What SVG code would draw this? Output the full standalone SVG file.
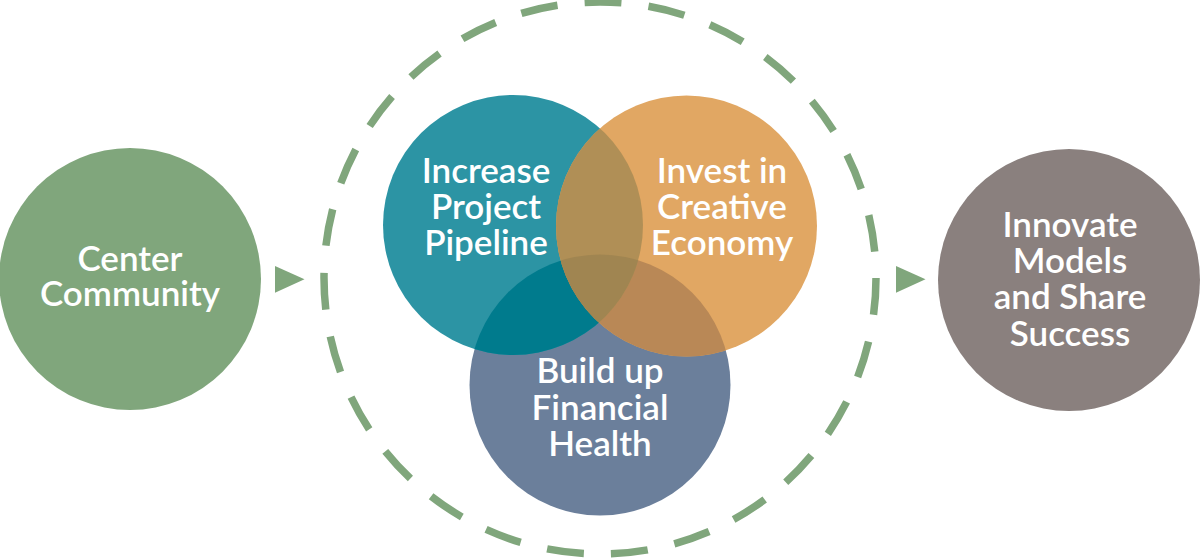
<svg xmlns="http://www.w3.org/2000/svg" width="1200" height="559" viewBox="0 0 1200 559">
<style>
.lbl{font-family:Lato,"Open Sans","Liberation Sans",sans-serif;font-weight:600;font-size:35px;fill:#ffffff;text-anchor:middle}
.arrow{fill:#80a67c}
</style>
<defs>
<clipPath id="cTeal"><circle cx="513" cy="225" r="130"/></clipPath>
<clipPath id="cOrange"><circle cx="686.5" cy="226" r="130.5"/></clipPath>
<clipPath id="cBlue"><circle cx="600" cy="385" r="130.5"/></clipPath>
</defs>
<rect width="1200" height="559" fill="#ffffff"/>
<g id="frame">
<circle cx="600" cy="278" r="276" fill="none" stroke="#80a67c" stroke-width="7.5" stroke-dasharray="37 27.23"/>
</g>
<g id="connectors">
<polygon class="arrow" points="275,266 304.5,279.3 275,292.7"/>
<polygon class="arrow" points="896,266 925.5,279.3 896,292.7"/>
</g>
<g id="center-community">
<circle cx="130" cy="279" r="131" fill="#80a67c"/>
<text class="lbl" x="130" y="271">Center</text>
<text class="lbl" x="130" y="306">Community</text>
</g>
<g id="build-financial-health">
<circle cx="600" cy="385" r="130.5" fill="#6b7f9b"/>
</g>
<g id="increase-project-pipeline">
<circle cx="513" cy="225" r="130" fill="#2c94a4"/>
</g>
<g id="invest-creative-economy">
<circle cx="686.5" cy="226" r="130.5" fill="#e1a763"/>
</g>
<g id="overlaps">
<g clip-path="url(#cTeal)"><circle cx="600" cy="385" r="130.5" fill="#007b8d"/></g>
<g clip-path="url(#cOrange)"><circle cx="600" cy="385" r="130.5" fill="#b98856"/></g>
<g clip-path="url(#cTeal)"><circle cx="686.5" cy="226" r="130.5" fill="#b08f56"/></g>
<g clip-path="url(#cTeal)"><g clip-path="url(#cOrange)"><circle cx="600" cy="385" r="130.5" fill="#a08551"/></g></g>
</g>
<g id="venn-labels">
<text class="lbl" x="486" y="183">Increase</text>
<text class="lbl" x="486" y="219">Project</text>
<text class="lbl" x="486" y="255">Pipeline</text>
<text class="lbl" x="722" y="183">Invest in</text>
<text class="lbl" x="722" y="219">Creative</text>
<text class="lbl" x="722" y="255">Economy</text>
<text class="lbl" x="600" y="383">Build up</text>
<text class="lbl" x="600" y="420">Financial</text>
<text class="lbl" x="600" y="456">Health</text>
</g>
<g id="innovate-models">
<circle cx="1069" cy="280" r="131" fill="#8a807e"/>
<text class="lbl" x="1070" y="237">Innovate</text>
<text class="lbl" x="1070" y="273">Models</text>
<text class="lbl" x="1070" y="309">and Share</text>
<text class="lbl" x="1070" y="346">Success</text>
</g>
</svg>
